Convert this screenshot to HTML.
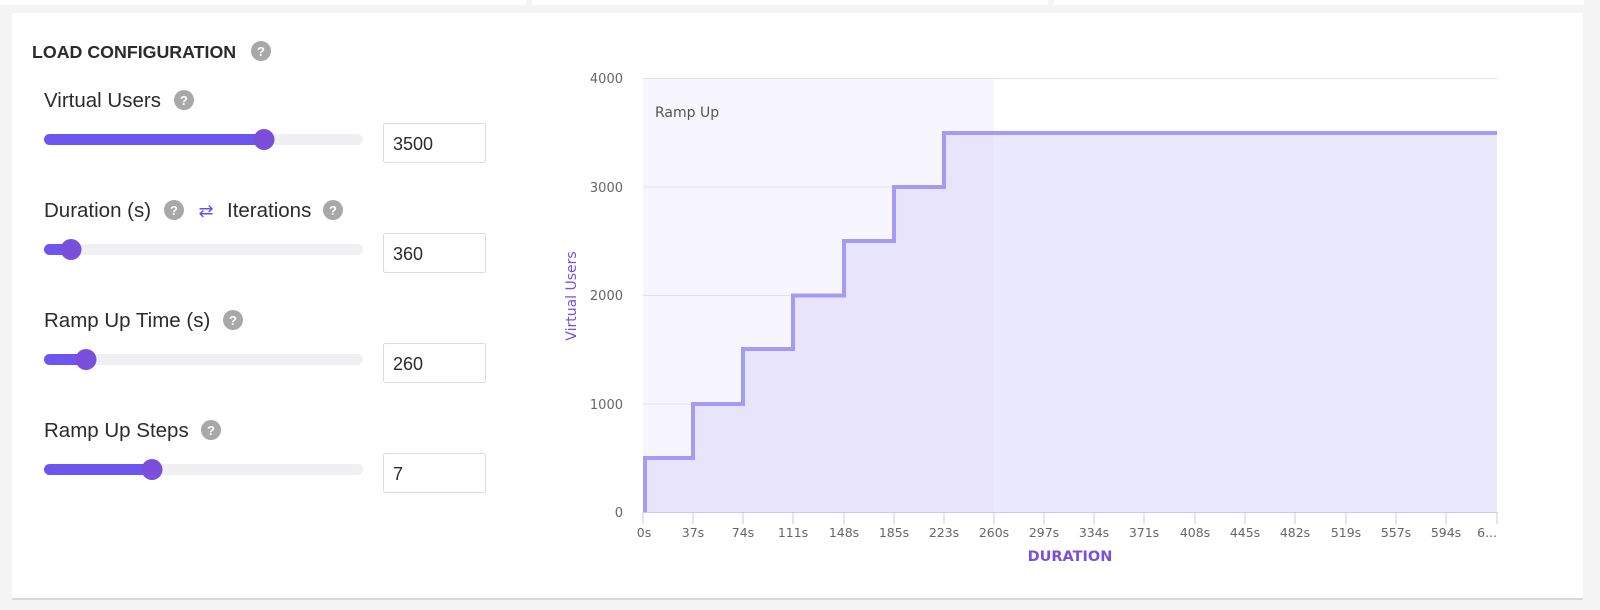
<!DOCTYPE html>
<html><head><meta charset="utf-8"><style>
html,body{margin:0;padding:0;width:1600px;height:610px;overflow:hidden;background:#f4f4f5;font-family:"Liberation Sans",sans-serif}
</style></head><body>
<svg width="1600" height="610" xmlns="http://www.w3.org/2000/svg" style="position:absolute;left:0;top:0">
<rect x="0" y="0" width="526" height="5" fill="#ffffff"/>
<rect x="532" y="0" width="516" height="5" fill="#ffffff"/>
<rect x="1054" y="0" width="530" height="5" fill="#ffffff"/>
<rect x="12" y="13" width="1571" height="587" fill="#d8d8dc"/>
<rect x="12" y="13" width="1571" height="585" fill="#ffffff"/>
<g font-family="Liberation Sans, sans-serif">
<text x="32" y="58" font-size="17.8" font-weight="bold" fill="#2b2b2b">LOAD CONFIGURATION</text>
<circle cx="261" cy="51" r="10" fill="#a8a8a8"/><text x="261" y="56" font-size="13" font-weight="bold" fill="#fff" text-anchor="middle">?</text>

<text x="44" y="107" font-size="20.5" fill="#2b2b2b">Virtual Users</text>
<circle cx="184" cy="100" r="10" fill="#a8a8a8"/><text x="184" y="105" font-size="13" font-weight="bold" fill="#fff" text-anchor="middle">?</text>
<text x="44" y="217" font-size="20.5" fill="#2b2b2b">Duration (s)</text>
<circle cx="174" cy="210" r="10" fill="#a8a8a8"/><text x="174" y="215" font-size="13" font-weight="bold" fill="#fff" text-anchor="middle">?</text>
<text x="206" y="217" font-size="18" fill="#6c4fe8" text-anchor="middle">⇄</text>
<text x="227" y="217" font-size="20.5" fill="#2b2b2b">Iterations</text>
<circle cx="333" cy="210" r="10" fill="#a8a8a8"/><text x="333" y="215" font-size="13" font-weight="bold" fill="#fff" text-anchor="middle">?</text>
<text x="44" y="327" font-size="20.5" fill="#2b2b2b">Ramp Up Time (s)</text>
<circle cx="233" cy="320" r="10" fill="#a8a8a8"/><text x="233" y="325" font-size="13" font-weight="bold" fill="#fff" text-anchor="middle">?</text>
<text x="44" y="437" font-size="20.5" fill="#2b2b2b">Ramp Up Steps</text>
<circle cx="211" cy="430" r="10" fill="#a8a8a8"/><text x="211" y="435" font-size="13" font-weight="bold" fill="#fff" text-anchor="middle">?</text>

<g>
<rect x="44" y="134" width="319" height="11" rx="5.5" fill="#f0f0f2"/><rect x="44" y="134" width="220" height="11" rx="5.5" fill="#6d55ef"/><circle cx="264" cy="139.5" r="10.5" fill="#7a4fdc"/>
<rect x="44" y="244" width="319" height="11" rx="5.5" fill="#f0f0f2"/><rect x="44" y="244" width="27" height="11" rx="5.5" fill="#6d55ef"/><circle cx="71" cy="249.5" r="10.5" fill="#7a4fdc"/>
<rect x="44" y="354" width="319" height="11" rx="5.5" fill="#f0f0f2"/><rect x="44" y="354" width="42" height="11" rx="5.5" fill="#6d55ef"/><circle cx="86" cy="359.5" r="10.5" fill="#7a4fdc"/>
<rect x="44" y="464" width="319" height="11" rx="5.5" fill="#f0f0f2"/><rect x="44" y="464" width="108" height="11" rx="5.5" fill="#6d55ef"/><circle cx="152" cy="469.5" r="10.5" fill="#7a4fdc"/>
</g>
<rect x="383.5" y="123.5" width="102" height="39" rx="2" fill="#fff" stroke="#dcd8f2"/><text x="393" y="150" font-size="18" fill="#2b2b2b">3500</text>
<rect x="383.5" y="233.5" width="102" height="39" rx="2" fill="#fff" stroke="#dcd8f2"/><text x="393" y="260" font-size="18" fill="#2b2b2b">360</text>
<rect x="383.5" y="343.5" width="102" height="39" rx="2" fill="#fff" stroke="#dcd8f2"/><text x="393" y="370" font-size="18" fill="#2b2b2b">260</text>
<rect x="383.5" y="453.5" width="102" height="39" rx="2" fill="#fff" stroke="#dcd8f2"/><text x="393" y="480" font-size="18" fill="#2b2b2b">7</text>

<rect x="643" y="78" width="351" height="434" fill="#f7f6fe"/>
<g stroke="#e2e2e6" stroke-width="1">
<line x1="643" y1="78.5" x2="1497" y2="78.5"/><line x1="643" y1="187" x2="1497" y2="187"/><line x1="643" y1="295.5" x2="1497" y2="295.5"/><line x1="643" y1="404" x2="1497" y2="404"/>
</g>
<path d="M643,512 L643,458 L693,458 L693,404 L743,404 L743,349 L793,349 L793,295.5 L844,295.5 L844,241 L894,241 L894,187 L944,187 L944,133 L1497,133 L1497,512 Z" fill="#e6e3fc" opacity="0.95"/>
<rect x="994" y="133" width="503" height="379" fill="#ebe9fd"/>
<path d="M645,512 L645,458 L693,458 L693,404 L743,404 L743,349 L793,349 L793,295.5 L844,295.5 L844,241 L894,241 L894,187 L944,187 L944,133 L1497,133" fill="none" stroke="#a39bf6" stroke-width="4"/>
<line x1="643" y1="512.5" x2="1497" y2="512.5" stroke="#ccc9e6"/>
</g>
<g font-family="DejaVu Sans, sans-serif">
<text x="655" y="117" font-size="14" fill="#555">Ramp Up</text>
<g font-size="13" fill="#666" text-anchor="end">
<text x="623" y="83">4000</text><text x="623" y="192">3000</text><text x="623" y="300">2000</text><text x="623" y="409">1000</text><text x="623" y="517">0</text>
</g>
<g stroke="#ccc9e6">
<line x1="643" y1="512" x2="643" y2="524"/><line x1="693" y1="512" x2="693" y2="524"/><line x1="743" y1="512" x2="743" y2="524"/><line x1="793" y1="512" x2="793" y2="524"/><line x1="844" y1="512" x2="844" y2="524"/><line x1="894" y1="512" x2="894" y2="524"/><line x1="944" y1="512" x2="944" y2="524"/><line x1="994" y1="512" x2="994" y2="524"/><line x1="1044" y1="512" x2="1044" y2="524"/><line x1="1094" y1="512" x2="1094" y2="524"/><line x1="1144" y1="512" x2="1144" y2="524"/><line x1="1195" y1="512" x2="1195" y2="524"/><line x1="1245" y1="512" x2="1245" y2="524"/><line x1="1295" y1="512" x2="1295" y2="524"/><line x1="1346" y1="512" x2="1346" y2="524"/><line x1="1396" y1="512" x2="1396" y2="524"/><line x1="1446" y1="512" x2="1446" y2="524"/><line x1="1497" y1="512" x2="1497" y2="524"/>
</g>
<g font-size="12.5" fill="#666" text-anchor="middle">
<text x="644" y="537">0s</text><text x="693" y="537">37s</text><text x="743" y="537">74s</text><text x="793" y="537">111s</text><text x="844" y="537">148s</text><text x="894" y="537">185s</text><text x="944" y="537">223s</text><text x="994" y="537">260s</text><text x="1044" y="537">297s</text><text x="1094" y="537">334s</text><text x="1144" y="537">371s</text><text x="1195" y="537">408s</text><text x="1245" y="537">445s</text><text x="1295" y="537">482s</text><text x="1346" y="537">519s</text><text x="1396" y="537">557s</text><text x="1446" y="537">594s</text><text x="1497" y="537" text-anchor="end">6...</text>
</g>
<text x="1070" y="561" font-size="14.5" font-weight="bold" fill="#7a4fdc" text-anchor="middle">DURATION</text>
<text transform="translate(576,296) rotate(-90)" font-size="14" fill="#7a4fdc" text-anchor="middle">Virtual Users</text>
</g>
</svg>
</body></html>
